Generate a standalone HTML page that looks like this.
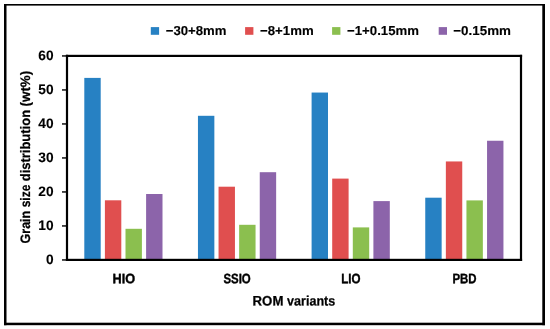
<!DOCTYPE html>
<html lang="en">
<head>
<meta charset="utf-8">
<title>Grain size distribution of ROM variants</title>
<style>
html,body{margin:0;padding:0;background:#fff;}
body{width:550px;height:329px;overflow:hidden;}
svg{display:block;}
text{text-rendering:geometricPrecision;font-family:"Liberation Sans",sans-serif;font-weight:bold;fill:#000;stroke:#000;stroke-width:0.25px;stroke-linejoin:round;}
</style>
</head>
<body>
<svg width="550" height="329" viewBox="0 0 550 329">
<rect x="0" y="0" width="550" height="329" fill="#ffffff"/>
<g fill="#000">
<rect x="4" y="4" width="541" height="1.6"/>
<rect x="4" y="322.7" width="541" height="2.5"/>
<rect x="4" y="4" width="2.5" height="321.2"/>
<rect x="542.3" y="4" width="2.7" height="321.2"/>
</g>
<g>
<rect x="84.30" y="77.90" width="16.4" height="181.60" fill="#2781C3"/>
<rect x="104.90" y="200.30" width="16.4" height="59.20" fill="#E04F4F"/>
<rect x="125.50" y="228.80" width="16.4" height="30.70" fill="#8BBF4F"/>
<rect x="146.10" y="194.00" width="16.4" height="65.50" fill="#8C64AA"/>
<rect x="197.95" y="115.80" width="16.4" height="143.70" fill="#2781C3"/>
<rect x="218.55" y="186.70" width="16.4" height="72.80" fill="#E04F4F"/>
<rect x="239.15" y="224.80" width="16.4" height="34.70" fill="#8BBF4F"/>
<rect x="259.75" y="172.20" width="16.4" height="87.30" fill="#8C64AA"/>
<rect x="311.60" y="92.55" width="16.4" height="166.95" fill="#2781C3"/>
<rect x="332.20" y="178.60" width="16.4" height="80.90" fill="#E04F4F"/>
<rect x="352.80" y="227.40" width="16.4" height="32.10" fill="#8BBF4F"/>
<rect x="373.40" y="201.10" width="16.4" height="58.40" fill="#8C64AA"/>
<rect x="425.25" y="197.70" width="16.4" height="61.80" fill="#2781C3"/>
<rect x="445.85" y="161.45" width="16.4" height="98.05" fill="#E04F4F"/>
<rect x="466.45" y="200.40" width="16.4" height="59.10" fill="#8BBF4F"/>
<rect x="487.05" y="140.75" width="16.4" height="118.75" fill="#8C64AA"/>
</g>
<g fill="#000">
<rect x="65.9" y="54.8" width="456.2" height="2.2"/>
<rect x="65.9" y="258.8" width="456.2" height="2.2"/>
<rect x="65.9" y="54.8" width="2.2" height="206.2"/>
<rect x="519.9" y="54.8" width="2.2" height="206.2"/>
<rect x="62" y="259.25" width="4.5" height="1.4"/>
<rect x="62" y="225.25" width="4.5" height="1.4"/>
<rect x="62" y="191.25" width="4.5" height="1.4"/>
<rect x="62" y="157.25" width="4.5" height="1.4"/>
<rect x="62" y="123.25" width="4.5" height="1.4"/>
<rect x="62" y="89.25" width="4.5" height="1.4"/>
<rect x="62" y="55.25" width="4.5" height="1.4"/>
</g>
<text transform="matrix(1 0.0005 0 1 53.5 263.95)" font-size="13.7" text-anchor="end" style="stroke-width:0.12px">0</text>
<text transform="matrix(1 0.0005 0 1 53.5 229.95)" font-size="13.7" text-anchor="end" style="stroke-width:0.12px">10</text>
<text transform="matrix(1 0.0005 0 1 53.5 195.95)" font-size="13.7" text-anchor="end" style="stroke-width:0.12px">20</text>
<text transform="matrix(1 0.0005 0 1 53.5 161.95)" font-size="13.7" text-anchor="end" style="stroke-width:0.12px">30</text>
<text transform="matrix(1 0.0005 0 1 53.5 127.95)" font-size="13.7" text-anchor="end" style="stroke-width:0.12px">40</text>
<text transform="matrix(1 0.0005 0 1 53.5 93.95)" font-size="13.7" text-anchor="end" style="stroke-width:0.12px">50</text>
<text transform="matrix(1 0.0005 0 1 53.5 59.95)" font-size="13.7" text-anchor="end" style="stroke-width:0.12px">60</text>
<text transform="matrix(0.9278 0.0005 0 1 123.75 283.30)" font-size="13.7" text-anchor="middle" style="stroke-width:0.4px">HIO</text>
<text transform="matrix(0.8339 0.0005 0 1 237.10 283.30)" font-size="13.7" text-anchor="middle" style="stroke-width:0.4px">SSIO</text>
<text transform="matrix(0.8453 0.0005 0 1 350.85 283.30)" font-size="13.7" text-anchor="middle" style="stroke-width:0.4px">LIO</text>
<text transform="matrix(0.8332 0.0005 0 1 464.45 283.30)" font-size="13.7" text-anchor="middle" style="stroke-width:0.4px">PBD</text>
<text transform="matrix(0.9636 0.0005 0 1 252.60 305.60)" font-size="13.7">ROM</text>
<text transform="matrix(0.9173 0.0005 0 1 287.10 305.60)" font-size="13.7">variants</text>
<text transform="matrix(0 -0.9166 1 0 29.60 243.50)" font-size="13.7">Grain</text>
<text transform="matrix(0 -0.8766 1 0 29.60 207.30)" font-size="13.7">size</text>
<text transform="matrix(0 -0.9484 1 0 29.60 181.30)" font-size="13.7">distribution</text>
<text transform="matrix(0 -0.9801 1 0 29.60 106.50)" font-size="13.7">(wt%)</text>
<rect x="150.8" y="27.1" width="8.3" height="7.7" fill="#2781C3"/>
<text transform="matrix(1.0135 0.0005 0 1 165.70 34.90)" font-size="13.0" style="stroke-width:0.12px">−30+8mm</text>
<rect x="245.1" y="27.1" width="8.3" height="7.7" fill="#E04F4F"/>
<text transform="matrix(1.0178 0.0005 0 1 260.00 34.90)" font-size="13.0" style="stroke-width:0.12px">−8+1mm</text>
<rect x="332.1" y="27.1" width="8.3" height="7.7" fill="#8BBF4F"/>
<text transform="matrix(1.0165 0.0005 0 1 347.00 34.90)" font-size="13.0" style="stroke-width:0.12px">−1+0.15mm</text>
<rect x="438.7" y="27.1" width="8.3" height="7.7" fill="#8C64AA"/>
<text transform="matrix(1.0301 0.0005 0 1 453.30 34.90)" font-size="13.0" style="stroke-width:0.12px">−0.15mm</text>
</svg>
</body>
</html>
